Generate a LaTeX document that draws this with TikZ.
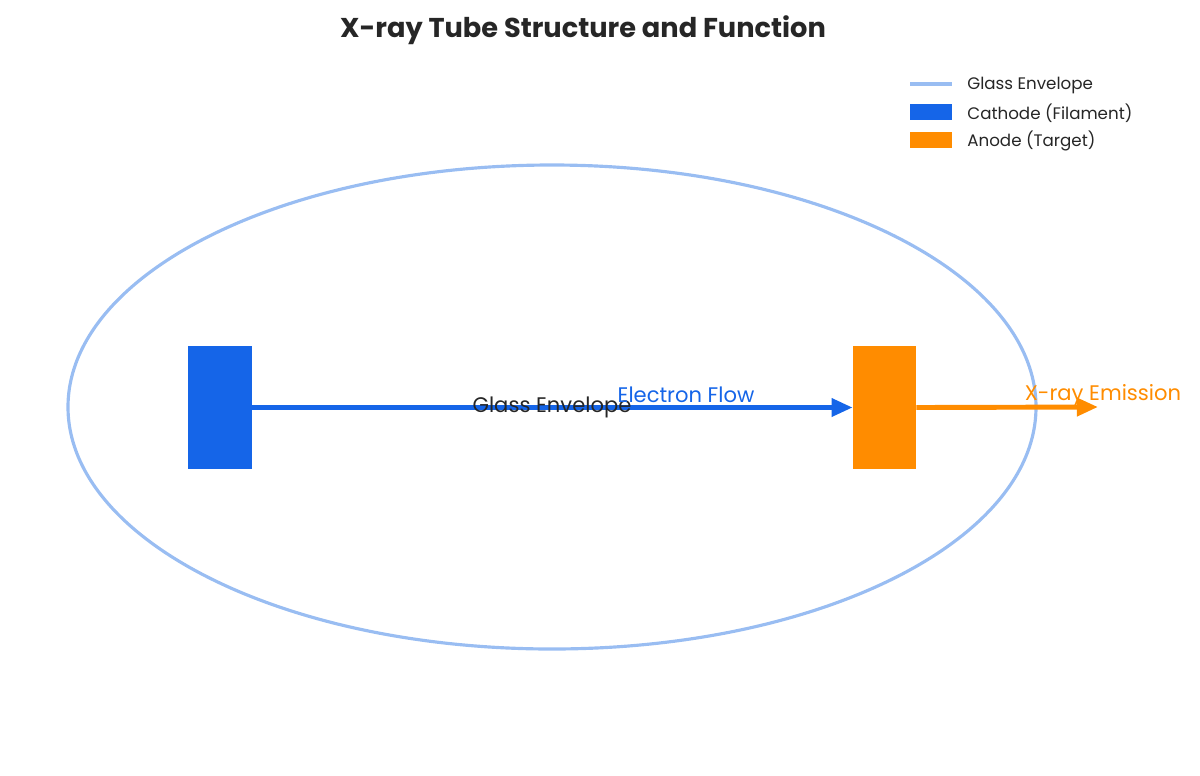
\documentclass[tikz,border=0pt]{standalone}
\usepackage{fontspec}
\setmainfont{Poppins}
\usetikzlibrary{arrows.meta}
\definecolor{cblue}{HTML}{1565E8}
\definecolor{corange}{HTML}{FF8C00}
\definecolor{glass}{HTML}{99BDF2}
\begin{document}
\begin{tikzpicture}[x=0.02cm,y=-0.02cm,
  lbl/.style={font=\fontsize{12}{14}\selectfont,inner sep=0},
  leg/.style={font=\fontsize{9.5}{11}\selectfont,anchor=west,text=black!85,inner sep=0},
  arr/.style={line width=2.8pt,-{Triangle[length=12pt,width=10pt]}}]
\useasboundingbox (0,0) rectangle (1200,775);
\node[font=\bfseries\fontsize{15.5}{18}\selectfont,text=black!85] (title) at (583,30) {X-ray Tube Structure and Function};
\draw[glass,line width=1.8pt] (552,407) ellipse [x radius=484,y radius=242];
\coordinate (ec) at (552,407);
\node[fill=cblue,minimum width=1.28cm,minimum height=2.46cm,inner sep=0] (cath) at (220,407.5) {};
\node[fill=corange,minimum width=1.26cm,minimum height=2.46cm,inner sep=0] (anode) at (884.5,407.5) {};
\coordinate (xend) at (1098,407);
\draw[arr,cblue] (cath.east) -- (anode.west);
\draw[arr,corange] (anode.east) -- (xend);
\node[lbl,text=black!85] (gl) at (ec) {Glass Envelope};
\node[lbl,text=cblue] (ef) at (686,395) {Electron Flow};
\node[lbl,text=corange] (xe) at (1103,395) {X-ray Emission};
% legend
\coordinate (l1a) at (910,84); \coordinate (l1b) at (952,84);
\draw[glass,line width=1.8pt] (l1a) -- (l1b);
\node[leg] (t1) at (967,85) {Glass Envelope};
\node[fill=cblue,minimum width=0.84cm,minimum height=0.32cm,inner sep=0] (l2) at (931,112) {};
\node[leg] (t2) at (967,113) {Cathode (Filament)};
\node[fill=corange,minimum width=0.84cm,minimum height=0.32cm,inner sep=0] (l3) at (931,140) {};
\node[leg] (t3) at (967,141) {Anode (Target)};
\end{tikzpicture}
\end{document}
